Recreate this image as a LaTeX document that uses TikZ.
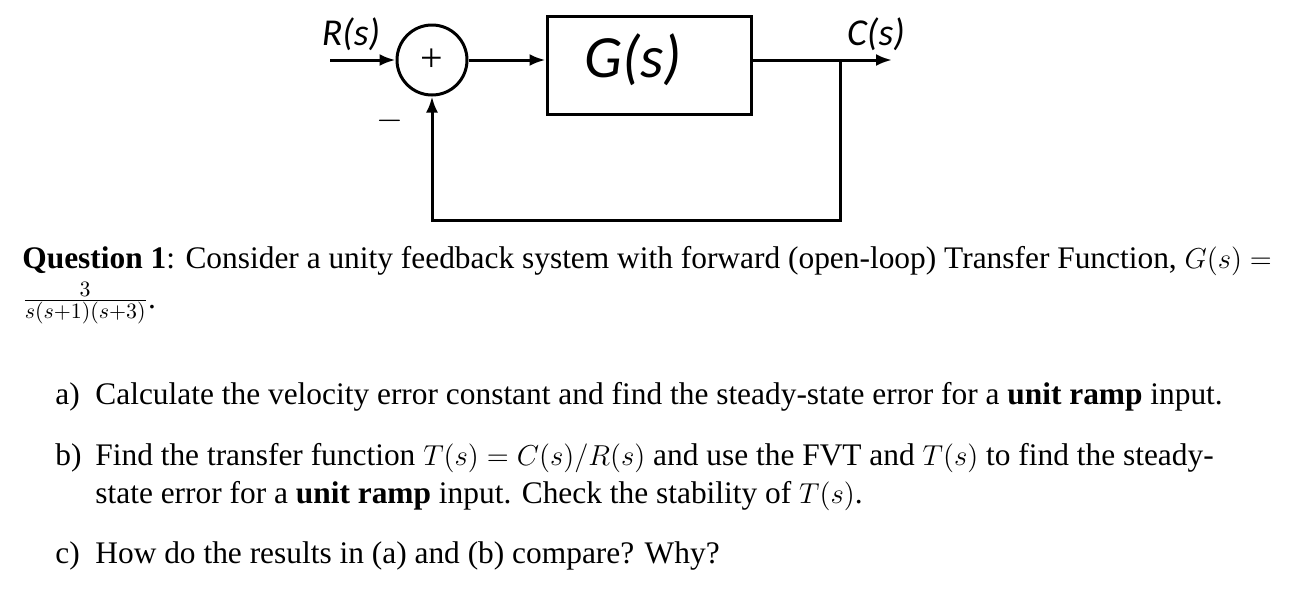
\documentclass[tikz,border=0pt]{standalone}
\usepackage{amsmath}
\usepackage{fontspec}
\setmainfont{Liberation Serif}
\newfontfamily\diagfont{Carlito}
\usetikzlibrary{arrows.meta}
\newcommand{\itm}[1]{\makebox[20pt][l]{#1}}
\begin{document}
\begin{tikzpicture}[x=0.5pt,y=-0.5pt,
  ln/.style={line width=1.5pt},
  arr/.style={ln,-{Latex[length=8pt,width=6pt]}},
  lbl/.style={font=\diagfont\itshape\fontsize{19}{22}\selectfont},
  txt/.style={anchor=base west,inner sep=0,font=\fontsize{15.7}{19}\selectfont}]
\useasboundingbox (0,0) rectangle (1298,590);
\node[circle,draw,ln,minimum size=35pt,inner sep=0] (sum) at (432,60) {\fontsize{20}{22}\selectfont +};
\node[draw,ln,minimum width=102pt,minimum height=49pt,inner sep=0] (G) at (649,65) {};
\node[font=\diagfont\itshape\fontsize{30}{32}\selectfont] (Gl) at (633,60) {G(s)};
\coordinate (in) at (330,60);
\coordinate (out) at (892,60);
\coordinate (tap) at (840,60);
\draw[arr] (in) -- (sum.west);
\draw[arr] (sum.east) -- (G.west |- sum.east);
\draw[arr] (G.east |- sum.east) -- (out);
\draw[arr] (tap) -- (840,220) -- (432,220) -- (sum.south);
\node[lbl] (R) at (351,34) {R(s)};
\node[lbl] (C) at (876,34) {C(s)};
\node (minus) at (390,121) {\fontsize{16}{18}\selectfont $-$};
\node[txt] (q1) at (22,268) {\textbf{Question 1}: Consider a unity feedback system with forward (open-loop) Transfer Function, $G(s)=$};
\node[txt] (q2) at (22,308) {$\frac{3}{s(s+1)(s+3)}$.};
\node[txt] (a) at (55,404) {\itm{a)}Calculate the velocity error constant and find the steady-state error for a \textbf{unit ramp} input.};
\node[txt] (b) at (55,465) {\itm{b)}Find the transfer function $T(s)=C(s)/R(s)$ and use the FVT and $T(s)$ to find the steady-};
\node[txt] (b2) at (95,503) {state error for a \textbf{unit ramp} input. Check the stability of $T(s)$.};
\node[txt] (c) at (55,563) {\itm{c)}How do the results in (a) and (b) compare? Why?};
\end{tikzpicture}
\end{document}
